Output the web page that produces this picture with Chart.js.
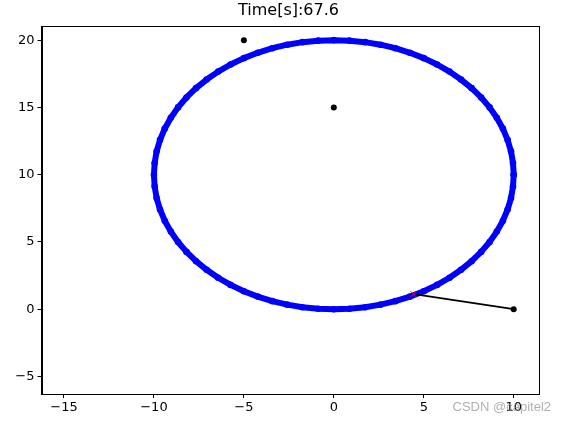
<!DOCTYPE html>
<html>
<head>
<meta charset="utf-8">
<script src="https://cdn.jsdelivr.net/npm/chart.js@4/dist/chart.umd.min.js"></script>
<style>
  html, body { margin: 0; padding: 0; background: #fff; }
  canvas { display: block; }
</style>
</head>
<body>
<canvas id="trackChart" width="566" height="422"></canvas>
<script>
// Trajectory samples (blue ring)
const trajX = [10, 9.96, 9.85, 9.66, 9.40, 9.06, 8.66, 8.19, 7.66, 7.07, 6.43, 5.74, 5.00, 4.23, 3.42, 2.59, 1.74, 0.87,
  0, -0.87, -1.74, -2.59, -3.42, -4.23, -5.00, -5.74, -6.43, -7.07, -7.66, -8.19, -8.66, -9.06, -9.40, -9.66, -9.85, -9.96,
  -10, -9.96, -9.85, -9.66, -9.40, -9.06, -8.66, -8.19, -7.66, -7.07, -6.43, -5.74, -5.00, -4.23, -3.42, -2.59, -1.74, -0.87,
  0, 0.87, 1.74, 2.59, 3.42, 4.23, 5.00, 5.74, 6.43, 7.07, 7.66, 8.19, 8.66, 9.06, 9.40, 9.66, 9.85, 9.96, 10];
const trajY = [10, 10.87, 11.74, 12.59, 13.42, 14.23, 15.00, 15.74, 16.43, 17.07, 17.66, 18.19, 18.66, 19.06, 19.40, 19.66, 19.85, 19.96,
  20, 19.96, 19.85, 19.66, 19.40, 19.06, 18.66, 18.19, 17.66, 17.07, 16.43, 15.74, 15.00, 14.23, 13.42, 12.59, 11.74, 10.87,
  10, 9.13, 8.26, 7.41, 6.58, 5.77, 5.00, 4.26, 3.57, 2.93, 2.34, 1.81, 1.34, 0.94, 0.60, 0.34, 0.15, 0.04,
  0, 0.04, 0.15, 0.34, 0.60, 0.94, 1.34, 1.81, 2.34, 2.93, 3.57, 4.26, 5.00, 5.77, 6.58, 7.41, 8.26, 9.13, 10];

// Fixed black points
const pointX = [-5, 0];
const pointY = [20, 15];

// Black segment from the moving point to the target on the ring
const segX = [10, 4.55];
const segY = [0, 1.11];

// Red cross marker
const crossX = [4.42];
const crossY = [1.13];

const xTicks = [-15, -10, -5, 0, 5, 10];
const yTicks = [-5, 0, 5, 10, 15, 20];
const titleText = 'Time[s]:67.6';
const watermark = 'CSDN @capitel2';

function toPoints(xs, ys) {
    return xs.map((x, i) => ({ x: x, y: ys[i] }));
}

function fmt(v) {
    return String(v).replace('-', '\u2212');
}

const tickFont = { family: 'DejaVu Sans', size: 13 };

// Box around the plot area plus the watermark
const framePlugin = {
    id: 'frame',
    afterDraw(chart) {
        const a = chart.chartArea;
        const ctx = chart.ctx;
        ctx.save();
        ctx.strokeStyle = '#000';
        ctx.lineWidth = 1;
        ctx.strokeRect(Math.round(a.left) + 0.5, Math.round(a.top) + 0.5,
            Math.round(a.right - a.left), Math.round(a.bottom - a.top));
        ctx.font = '13px "Liberation Sans", Arial, sans-serif';
        ctx.fillStyle = 'rgba(150, 150, 150, 0.75)';
        ctx.textAlign = 'right';
        ctx.textBaseline = 'alphabetic';
        ctx.fillText(watermark, 551, 411);
        ctx.restore();
    }
};

const ctx = document.getElementById('trackChart').getContext('2d');
new Chart(ctx, {
    type: 'scatter',
    data: {
        datasets: [
            {
                data: toPoints(segX, segY),
                showLine: true,
                borderColor: '#000',
                backgroundColor: '#000',
                borderWidth: 1.8,
                pointRadius: [3, 0],
                pointBorderWidth: 0
            },
            {
                data: toPoints(crossX, crossY),
                pointStyle: 'crossRot',
                pointRadius: 4,
                borderColor: '#ff0000',
                borderWidth: 1
            },
            {
                data: toPoints(trajX, trajY),
                showLine: true,
                borderColor: '#0000ff',
                backgroundColor: '#0000ff',
                borderWidth: 6,
                borderJoinStyle: 'round',
                pointRadius: 3.3,
                pointBorderWidth: 0
            },
            {
                data: toPoints(pointX, pointY),
                backgroundColor: '#000',
                pointRadius: 3,
                pointBorderWidth: 0
            }
        ]
    },
    options: {
        responsive: false,
        animation: false,
        devicePixelRatio: 1,
        layout: { padding: { left: 11, right: 0, top: 0, bottom: 0 } },
        plugins: {
            legend: { display: false },
            tooltip: { enabled: false },
            title: {
                display: true,
                text: titleText,
                color: '#000',
                font: { family: 'DejaVu Sans', size: 16, weight: 'normal', lineHeight: 1.2 },
                padding: { top: 1, bottom: 5.8 }
            }
        },
        scales: {
            x: {
                type: 'linear',
                min: -16.25,
                max: 11.35,
                afterBuildTicks(scale) {
                    scale.ticks = xTicks.map(v => ({ value: v }));
                },
                afterFit(scale) {
                    scale.height = 28;
                },
                ticks: {
                    color: '#000',
                    font: tickFont,
                    padding: 2,
                    maxRotation: 0,
                    callback: v => fmt(v)
                },
                grid: {
                    drawOnChartArea: false,
                    drawTicks: true,
                    tickLength: 4,
                    color: '#000'
                },
                border: { display: true, color: '#000' }
            },
            y: {
                type: 'linear',
                min: -6.3,
                max: 21.05,
                afterBuildTicks(scale) {
                    scale.ticks = yTicks.map(v => ({ value: v }));
                },
                afterFit(scale) {
                    scale.width = 30.5;
                },
                ticks: {
                    color: '#000',
                    font: tickFont,
                    padding: 3,
                    callback: v => fmt(v)
                },
                grid: {
                    drawOnChartArea: false,
                    drawTicks: true,
                    tickLength: 4,
                    color: '#000'
                },
                border: { display: true, color: '#000' }
            },
            yRight: {
                type: 'linear',
                position: 'right',
                afterFit(scale) {
                    scale.width = 28;
                },
                ticks: { display: false },
                grid: { display: false },
                border: { display: false }
            }
        }
    },
    plugins: [framePlugin]
});
</script>
</body>
</html>
